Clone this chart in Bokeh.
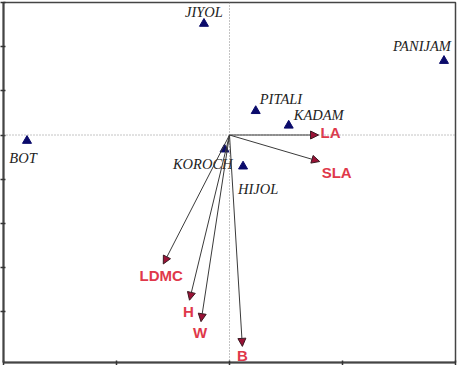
from bokeh.plotting import figure
from bokeh.models import (ColumnDataSource, Arrow, NormalHead, Span, FixedTicker, Range1d,
                          CustomJSTickFormatter)
from bokeh.core.properties import value
from bokeh.embed import file_html
from bokeh.resources import INLINE

# Sites (scores)
site_names = ["JIYOL", "BOT", "KOROCH", "PANIJAM", "PITALI", "KADAM", "HIJOL"]
site_x = [-0.113, -0.896, -0.022, 0.949, 0.116, 0.262, 0.060]
site_y = [0.504, -0.026, -0.065, 0.336, 0.109, 0.043, -0.142]

# Traits (arrow tips)
trait_names = ["LA", "SLA", "LDMC", "H", "W", "B"]
trait_x = [0.394, 0.399, -0.293, -0.177, -0.126, 0.057]
trait_y = [0.000, -0.120, -0.584, -0.748, -0.845, -0.957]

# Axis ticks
x_ticks = [-1.0, -0.5, 0.0, 0.5, 1.0]
y_ticks = [-0.8, -0.6, -0.4, -0.2, 0.0, 0.2, 0.4, 0.6]

# label layout (pixel offsets, styling only)
site_dx = [0, -4, 8, -22, 4, 5, -5]
site_dy = [-12, 17, 15, -15, -12, -11, 23]
site_align = ["center", "center", "right", "center", "left", "left", "left"]
trait_dx = [2, 2, -2, -1, -1, 0]
trait_dy = [-3, 11, 12, 11, 11, 9]
trait_align = ["left", "left", "center", "center", "center", "center"]

p = figure(frame_width=452, frame_height=360, output_backend="svg", toolbar_location=None,
           x_range=Range1d(-1.0, 1.0), y_range=Range1d(-1.03, 0.6),
           min_border_left=0, min_border_right=2, min_border_top=2, min_border_bottom=0)
p.grid.visible = False
p.background_fill_color = "white"
p.outline_line_color = "#444444"
p.outline_line_width = 1.5

for ax in (p.xaxis[0], p.yaxis[0]):
    ax.formatter = CustomJSTickFormatter(code="return ''")
    ax.major_label_text_font_size = "1px"
    ax.major_label_standoff = 0
    ax.major_tick_out = 3
    ax.major_tick_in = 2
    ax.minor_tick_out = 0
    ax.minor_tick_in = 0
    ax.axis_line_color = "#444444"
    ax.axis_line_width = 2
    ax.major_tick_line_color = "#333333"
    ax.major_tick_line_width = 1.5
p.xaxis[0].ticker = FixedTicker(ticks=x_ticks)
p.yaxis[0].ticker = FixedTicker(ticks=y_ticks)

p.add_layout(Span(location=0, dimension="width", line_color="#888888", line_dash="1 2", line_width=1))
p.add_layout(Span(location=0, dimension="height", line_color="#888888", line_dash="1 2", line_width=1))

tsrc = ColumnDataSource(dict(x0=[0.0] * len(trait_x), y0=[0.0] * len(trait_y), x=trait_x, y=trait_y,
                             name=trait_names, dx=trait_dx, dy=trait_dy, align=trait_align))
p.add_layout(Arrow(end=NormalHead(size=8, fill_color="#9a1236", line_color="#3a1a22", line_width=1),
                   x_start="x0", y_start="y0", x_end="x", y_end="y", source=tsrc,
                   line_color="#3a3a3a", line_width=1))
p.text(x="x", y="y", text="name", x_offset="dx", y_offset="dy", text_align="align",
       text_baseline="middle", source=tsrc, text_color="#e0384a",
       text_font=value("Liberation Sans"), text_font_style="bold", text_font_size="15px")

ssrc = ColumnDataSource(dict(x=site_x, y=site_y, name=site_names, dx=site_dx, dy=site_dy, align=site_align))
p.scatter(x="x", y="y", source=ssrc, marker="triangle", size=9, fill_color="#0b0b6b", line_color="#0b0b6b")
p.text(x="x", y="y", text="name", x_offset="dx", y_offset="dy", text_align="align",
       text_baseline="middle", source=ssrc, text_color="#222222",
       text_font=value("Liberation Serif"), text_font_style="italic", text_font_size="14.5px")

open("out.html", "w").write(file_html(p, INLINE))
